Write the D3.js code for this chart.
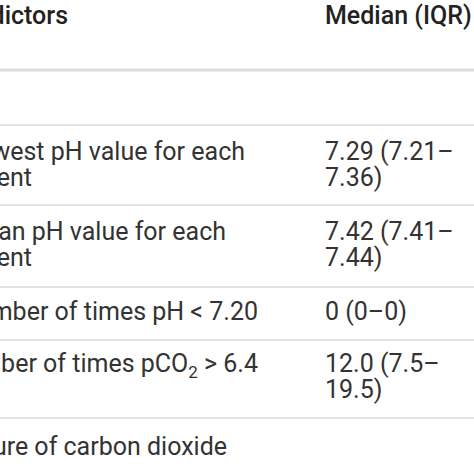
<!DOCTYPE html><html><head><meta charset="utf-8"><script src="https://cdn.jsdelivr.net/npm/d3@7"></script>
<style>body{margin:0;background:#fff}</style></head><body><script>
const headers=["Predictors","Median (IQR)"];
const leftLines=[["Predictors",24,68],["Lowest pH value for each",160,245],["patient",186,32],["Mean pH value for each",240,226],["patient",266,32],["Number of times pH < 7.20",320,258],["Number of times pCO","sub",372,258],["Partial pressure of carbon dioxide",455,227]];
const rightLines=[["7.29 (7.21–",160],["7.36)",186],["7.42 (7.41–",240],["7.44)",266],["0 (0–0)",320],["12.0 (7.5–",372],["19.5)",398]];
const rules=[[70,3,"#ddd"],[125,2,"#e2e2e2"],[205,2,"#e2e2e2"],[287,2,"#e2e2e2"],[340,2,"#e2e2e2"],[418,2,"#e2e2e2"]];
const svg=d3.select("body").append("svg").attr("width",474).attr("height",474);
const y=d3.scaleLinear().domain([0,474]).range([0,474]);
svg.selectAll("line").data(rules).join("line").attr("x1",0).attr("x2",474)
 .attr("y1",d=>y(d[0])).attr("y2",d=>y(d[0])).attr("stroke",d=>d[2]).attr("stroke-width",d=>d[1]);
const font="Roboto",fs=25;
leftLines.forEach((d,i)=>{
 const bold=i===0;
 const t=svg.append("text").attr("font-family",font).attr("font-size",fs).attr("font-weight",bold?500:400)
  .attr("text-anchor","end").attr("fill",bold?"#222":"#333").attr("x",d[d.length-1]).attr("y",y(d[d.length-2]));
 if(d[1]==="sub"){t.append("tspan").text(d[0]);t.append("tspan").attr("font-size",17).attr("dy",6).text("2");t.append("tspan").attr("dy",-6).text(" > 6.4");}
 else t.text(d[0]);
});
svg.append("text").attr("font-family",font).attr("font-size",fs).attr("font-weight",500).attr("fill","#222").attr("x",325).attr("y",24).text(headers[1]);
svg.selectAll("text.r").data(rightLines).join("text").attr("class","r").attr("font-family",font).attr("font-size",fs)
 .attr("fill","#333").attr("x",325).attr("y",d=>y(d[1])).text(d=>d[0]);
</script></body></html>
